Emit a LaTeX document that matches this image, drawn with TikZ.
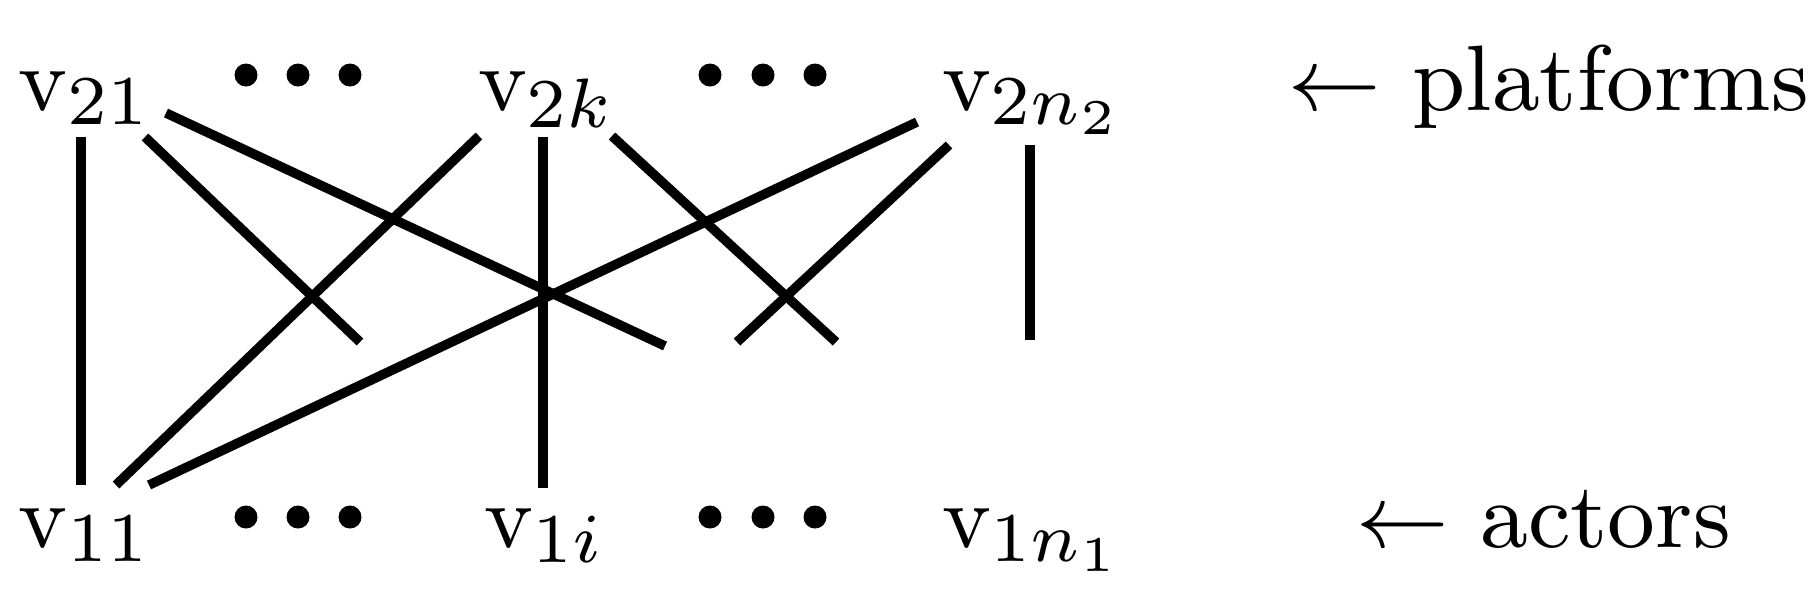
\documentclass[tikz,border=0pt]{standalone}
\begin{document}
\begin{tikzpicture}[x=0.1pt,y=-0.1pt,
  lbl/.style={anchor=base west,inner sep=0pt,font=\fontsize{9.3}{11}\selectfont},
  edge/.style={line width=0.95pt},
  dot/.style={circle,fill=black,inner sep=0pt,minimum size=2.3pt}]
\useasboundingbox (0,0) rectangle (1820,603);
% top row
\node[lbl] (v21) at (17,110) {$\mathrm{v}_{21}$};
\node[lbl] (v2k) at (476,110) {$\mathrm{v}_{2k}$};
\node[lbl] (v2n) at (940,110) {$\mathrm{v}_{2n_2}$};
\node[lbl] (plat) at (1286,110) {$\leftarrow$ platforms};
% bottom row
\node[lbl] (v11) at (17,547) {$\mathrm{v}_{11}$};
\node[lbl] (v1i) at (482,547) {$\mathrm{v}_{1i}$};
\node[lbl] (v1n) at (940,547) {$\mathrm{v}_{1n_1}$};
\node[lbl] (act) at (1354,547) {$\leftarrow$ actors};
% dots
\foreach \x [count=\i] in {246,298,350,710,763,815} {
  \node[dot] (td\i) at (\x,75) {};
  \node[dot] (bd\i) at (\x,517) {};
}
% endpoints
\coordinate (a1) at (81,137);  \coordinate (b1) at (81,485);
\coordinate (a2) at (145,137); \coordinate (b2) at (360,342);
\coordinate (a3) at (166,113); \coordinate (b3) at (665,346);
\coordinate (a4) at (479,136); \coordinate (b4) at (116,485);
\coordinate (a5) at (543,137); \coordinate (b5) at (543,488);
\coordinate (a6) at (612,136); \coordinate (b6) at (836,342);
\coordinate (a7) at (917,122); \coordinate (b7) at (149,485);
\coordinate (a8) at (949,145); \coordinate (b8) at (737,342);
\coordinate (a9) at (1030,145); \coordinate (b9) at (1030,340);
\foreach \i in {1,...,9} { \draw[edge] (a\i) -- (b\i); }
\end{tikzpicture}
\end{document}
